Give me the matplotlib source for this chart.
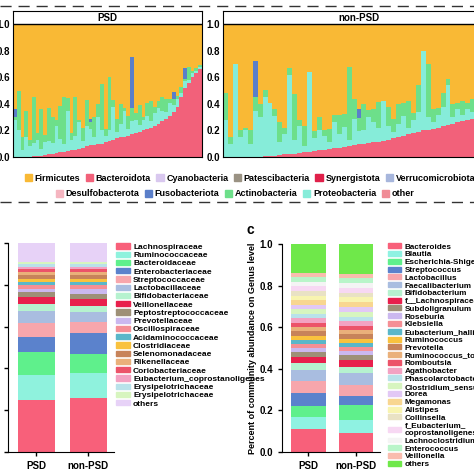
import matplotlib.pyplot as plt
import numpy as np
from matplotlib.patches import Patch
from matplotlib.lines import Line2D

plt.rcParams['font.family'] = ['Liberation Sans', 'DejaVu Sans']
plt.rcParams['font.weight'] = 'bold'

# ---- panel b (phylum, per sample) ----
phyla = ["Firmicutes", "Bacteroidota", "Cyanobacteria", "Patescibacteria", "Synergistota",
         "Verrucomicrobiota", "Desulfobacterota", "Fusobacteriota", "Actinobacteria",
         "Proteobacteria", "other"]
phyla_colors = ["#f9b935", "#f2617a", "#d9c8ef", "#9a9283", "#e0204a", "#a7b6dc",
                "#f5b5c0", "#5b7fc9", "#6ddf8a", "#86ecd9", "#f08c96"]

psd_bact = [0, 0, 0, 0, 0, 0.005, 0.01, 0.01, 0.015, 0.02, 0.025, 0.03, 0.035, 0.04, 0.045,
            0.05, 0.055, 0.06, 0.07, 0.08, 0.09, 0.09, 0.1, 0.1, 0.11, 0.12, 0.13, 0.14, 0.15,
            0.15, 0.16, 0.17, 0.18, 0.19, 0.2, 0.21, 0.22, 0.23, 0.25, 0.27, 0.29, 0.31, 0.34,
            0.38, 0.45, 0.52, 0.56, 0.6, 0.63, 0.66]
psd_proteo = [0.28, 0.2, 0.05, 0.15, 0.08, 0.1, 0.12, 0.05, 0.1, 0.1, 0.08, 0.2, 0.1, 0.06, 0.3,
              0.08, 0.1, 0.2, 0.05, 0.15, 0.12, 0.06, 0.2, 0.1, 0.05, 0.08, 0.25, 0.05, 0.1, 0.2,
              0.05, 0.1, 0.1, 0.05, 0.08, 0.1, 0.05, 0.1, 0.12, 0.08, 0.05, 0.1, 0.05, 0.06, 0.03,
              0.05, 0.02, 0.03, 0.02, 0.02]
psd_actino = [0.02, 0.3, 0.1, 0.2, 0.05, 0.35, 0.05, 0.3, 0.05, 0.25, 0.2, 0.05, 0.25, 0.35, 0.1,
              0.05, 0.3, 0.02, 0.1, 0.2, 0.05, 0.15, 0.1, 0.35, 0.05, 0.4, 0.05, 0.1, 0.15, 0.02,
              0.1, 0.1, 0.05, 0.15, 0.02, 0.1, 0.15, 0.05, 0.05, 0.1, 0.1, 0.03, 0.05, 0.02, 0.05,
              0.02, 0.1, 0.02, 0.02, 0.01]
psd_fuso = [0.06, 0, 0, 0, 0, 0, 0, 0, 0, 0, 0, 0, 0, 0, 0, 0, 0, 0, 0, 0, 0.03, 0, 0, 0, 0,
            0, 0, 0, 0, 0, 0, 0.38, 0, 0, 0, 0, 0, 0, 0, 0, 0, 0, 0.05, 0, 0, 0.08, 0, 0, 0, 0]

non_bact = [0, 0, 0, 0, 0, 0, 0, 0, 0.005, 0.01, 0.01, 0.015, 0.02, 0.02, 0.025, 0.03, 0.035,
            0.04, 0.045, 0.05, 0.055, 0.06, 0.065, 0.07, 0.075, 0.08, 0.09, 0.095, 0.1, 0.105,
            0.11, 0.115, 0.12, 0.13, 0.14, 0.15, 0.16, 0.17, 0.18, 0.19, 0.2, 0.2, 0.21, 0.22,
            0.23, 0.24, 0.25, 0.26, 0.27, 0.28, 0.29, 0.3, 0.32, 0.34, 0.36]
non_proteo = [0.28, 0.1, 0.7, 0.15, 0.2, 0.1, 0.35, 0.3, 0.45, 0.4, 0.3, 0.1, 0.15, 0.6, 0.1,
              0.2, 0.05, 0.6, 0.1, 0.15, 0.1, 0.05, 0.2, 0.1, 0.15, 0.05, 0.2, 0.1, 0.1, 0.2,
              0.15, 0.1, 0.3, 0.1, 0.05, 0.1, 0.15, 0.05, 0.1, 0.15, 0.6, 0.1, 0.05, 0.1, 0.15,
              0.3, 0.05, 0.1, 0.05, 0.08, 0.05, 0.06, 0.05, 0.04, 0.03]
non_actino = [0.2, 0.05, 0.0, 0.05, 0.02, 0.1, 0.1, 0.1, 0.05, 0.0, 0.05, 0.15, 0.05, 0.05, 0.35,
              0.05, 0.15, 0.0, 0.05, 0.1, 0.05, 0.1, 0.05, 0.15, 0.1, 0.55, 0.15, 0.1, 0.2, 0.05,
              0.1, 0.2, 0.0, 0.15, 0.1, 0.15, 0.1, 0.2, 0.05, 0.2, 0.0, 0.4, 0.1, 0.05, 0.1,
              0.05, 0.1, 0.05, 0.1, 0.05, 0.1, 0.05, 0.05, 0.05, 0.03]
non_fuso = [0, 0, 0, 0, 0, 0, 0.27, 0, 0, 0, 0, 0, 0, 0, 0, 0, 0, 0, 0, 0, 0, 0, 0, 0, 0,
            0, 0, 0.07, 0, 0, 0, 0, 0, 0, 0, 0, 0, 0, 0, 0, 0, 0, 0, 0, 0, 0, 0, 0, 0, 0,
            0, 0, 0, 0, 0]

# ---- panel B (family) ----
families = ["Lachnospiraceae", "Ruminococcaceae", "Bacteroidaceae", "Enterobacteriaceae",
            "Streptococcaceae", "Lactobacillaceae", "Bifidobacteriaceae", "Veillonellaceae",
            "Peptostreptococcaceae", "Prevotellaceae", "Oscillospiraceae", "Acidaminococcaceae",
            "Clostridiaceae", "Selenomonadaceae", "Rikenellaceae", "Coriobacteriaceae",
            "Eubacterium_coprostanoligenes", "Erysipelotrichaceae", "Erysipelotrichaceae", "others"]
fam_colors = ["#f8607a", "#8ff2dd", "#5ff08c", "#5b82cc", "#f7a6ac", "#a9bde0", "#b6f2cf",
              "#e8204c", "#9e9077", "#cbb8ef", "#f58f95", "#5ab7c9", "#f9c23e", "#c7835a",
              "#eab07a", "#ec5369", "#f3a2c2", "#b9e2ea", "#d7f5bf", "#e7d2f7"]
fam_psd = [0.25, 0.12, 0.11, 0.07, 0.067, 0.058, 0.035, 0.03, 0.025, 0.015, 0.02, 0.015,
           0.015, 0.015, 0.015, 0.015, 0.01, 0.015, 0.01, 0.095]
fam_non = [0.26, 0.12, 0.09, 0.10, 0.05, 0.05, 0.03, 0.03, 0.025, 0.025, 0.02, 0.015,
           0.015, 0.015, 0.015, 0.015, 0.01, 0.015, 0.01, 0.10]

# ---- panel C (genus) ----
genera = ["Bacteroides", "Blautia", "Escherichia-Shigella", "Streptococcus", "Lactobacillus",
          "Faecalibacterium", "Bifidobacterium", "f__Lachnospiraceae", "Subdoligranulum",
          "Roseburia", "Klebsiella", "Eubacterium_hallii", "Ruminococcus", "Prevotella",
          "Ruminococcus_torques", "Romboutsia", "Agathobacter", "Phascolarctobacterium",
          "Clostridium_sensu", "Dorea", "Megamonas", "Alistipes", "Collinsella",
          "f_Eubacterium_\ncoprostanoligenes", "Lachnoclostridium", "Enterococcus",
          "Veillonella", "others"]
gen_colors = ["#f8607a", "#8ff2e2", "#5ff08c", "#5b82cc", "#f7a6ac", "#a9bde0", "#b6f2cf",
              "#e8204c", "#9e9077", "#cbb8ef", "#f58f95", "#5ab7c9", "#f9c23e", "#c7835a",
              "#eab07a", "#ec5369", "#f3a2c2", "#b9e2ea", "#d7f5bf", "#e2c8f5", "#f8d690",
              "#f8f4b0", "#e9e2c4", "#f7d8f3", "#f4f4f4", "#b9f5c9", "#f9bcae", "#6fe84a"]
gen_psd = [0.11, 0.06, 0.05, 0.065, 0.055, 0.055, 0.035, 0.025, 0.025, 0.02, 0.02, 0.02,
           0.02, 0.02, 0.02, 0.02, 0.022, 0.022, 0.022, 0.022, 0.022, 0.022, 0.022, 0.022, 0.022,
           0.022, 0.022, 0.136]
gen_non = [0.09, 0.065, 0.07, 0.045, 0.05, 0.06, 0.03, 0.03, 0.025, 0.02, 0.02, 0.02,
           0.02, 0.02, 0.02, 0.02, 0.023, 0.023, 0.023, 0.023, 0.023, 0.023, 0.023, 0.023, 0.023,
           0.023, 0.023, 0.142]

W = H = 474.0
fig = plt.figure(figsize=(4.74, 4.74), dpi=100)


def ax_px(x0, y0, x1, y1):
    return fig.add_axes([x0 / W, 1 - y1 / H, (x1 - x0) / W, (y1 - y0) / H])


def sample_panel(ax, bact, proteo, actino, fuso, title):
    n = len(bact)
    x = np.arange(n)
    bact = np.array(bact)
    proteo = np.array(proteo)
    actino = np.array(actino)
    fuso = np.array(fuso)
    bottom = np.zeros(n)
    for vals, c in [(bact, phyla_colors[1]), (proteo, phyla_colors[9]),
                    (actino, phyla_colors[8]), (fuso, phyla_colors[7])]:
        ax.bar(x, vals, bottom=bottom, width=1.0, color=c, linewidth=0)
        bottom = bottom + vals
    ax.bar(x, 1 - bottom, bottom=bottom, width=1.0, color=phyla_colors[0], linewidth=0)
    ax.set_xlim(-0.5, n - 0.5)
    ax.set_ylim(0, 1.1)
    ax.axhline(1.0, color="black", lw=1)
    ax.set_yticks([0, 0.2, 0.4, 0.6, 0.8, 1.0])
    ax.set_yticklabels(["0.0", "0.2", "0.4", "0.6", "0.8", "1.0"], fontsize=7, fontweight="bold")
    ax.set_xticks([])
    ax.tick_params(axis="y", length=0, pad=2)
    ax.text((n - 1) / 2, 1.05, title, ha="center", va="center", fontsize=7, fontweight="bold")


ax1 = ax_px(13, 11, 202, 157)
sample_panel(ax1, psd_bact, psd_proteo, psd_actino, psd_fuso, "PSD")
ax2 = ax_px(223, 11, 495, 157)
sample_panel(ax2, non_bact, non_proteo, non_actino, non_fuso, "non-PSD")

handles = [Patch(color=c, label=l) for l, c in zip(phyla, phyla_colors)]
leg_kw = dict(frameon=False, fontsize=6.5, handlelength=0.8, handleheight=0.8,
              handletextpad=0.3, columnspacing=0.6, borderaxespad=0)
fig.legend(handles=handles[:6], ncol=6, loc="center", bbox_to_anchor=(250 / W, 1 - 178 / H), **leg_kw)
fig.legend(handles=handles[6:], ncol=5, loc="center", bbox_to_anchor=(235 / W, 1 - 194 / H), **leg_kw)

for yy in [6, 202]:
    fig.add_artist(Line2D([0, 1], [1 - yy / H] * 2, color="#333333", lw=1, ls=(0, (8, 5))))


def stacked(ax, vals_a, vals_b, colors):
    b1 = b2 = 0
    for va, vb, c in zip(vals_a, vals_b, colors):
        ax.bar([0, 1], [va, vb], bottom=[b1, b2], width=0.72, color=c, linewidth=0)
        b1 += va
        b2 += vb
    ax.set_xlim(-0.55, 1.5)
    ax.set_ylim(0, 1.0)
    ax.set_xticks([0, 1])
    ax.set_xticklabels(["PSD", "non-PSD"], fontsize=7, fontweight="bold")
    ax.spines[["top", "right"]].set_visible(False)
    ax.tick_params(length=3, width=1)


ax3 = ax_px(8, 243, 114, 452)
stacked(ax3, fam_psd, fam_non, fam_colors)
ax3.set_yticks([0, 0.2, 0.4, 0.6, 0.8, 1.0])
ax3.set_yticklabels([])
fig.legend(handles=[Patch(color=c, label=l) for l, c in zip(families, fam_colors)],
           loc="upper left", bbox_to_anchor=(113 / W, 1 - 240 / H), frameon=False,
           fontsize=6.0, handlelength=1.6, handleheight=0.6, handletextpad=0.4,
           labelspacing=0.08, borderaxespad=0)

ax4 = ax_px(282, 244, 380, 452)
stacked(ax4, gen_psd, gen_non, gen_colors)
ax4.set_yticks([0, 0.2, 0.4, 0.6, 0.8, 1.0])
ax4.set_yticklabels(["0.0", "0.2", "0.4", "0.6", "0.8", "1.0"], fontsize=7, fontweight="bold")
ax4.set_ylabel("Percent of community abundance on Genus level", fontsize=6.5, fontweight="bold", labelpad=2)
fig.text(247 / W, 1 - 230 / H, "c", fontsize=10, fontweight="bold", va="center")
fig.legend(handles=[Patch(color=c, label=l) for l, c in zip(genera, gen_colors)],
           loc="upper left", bbox_to_anchor=(385 / W, 1 - 240 / H), frameon=False,
           fontsize=5.9, handlelength=1.6, handleheight=0.55, handletextpad=0.4,
           labelspacing=0.05, borderaxespad=0)

fig.savefig("out.png", dpi=100)
